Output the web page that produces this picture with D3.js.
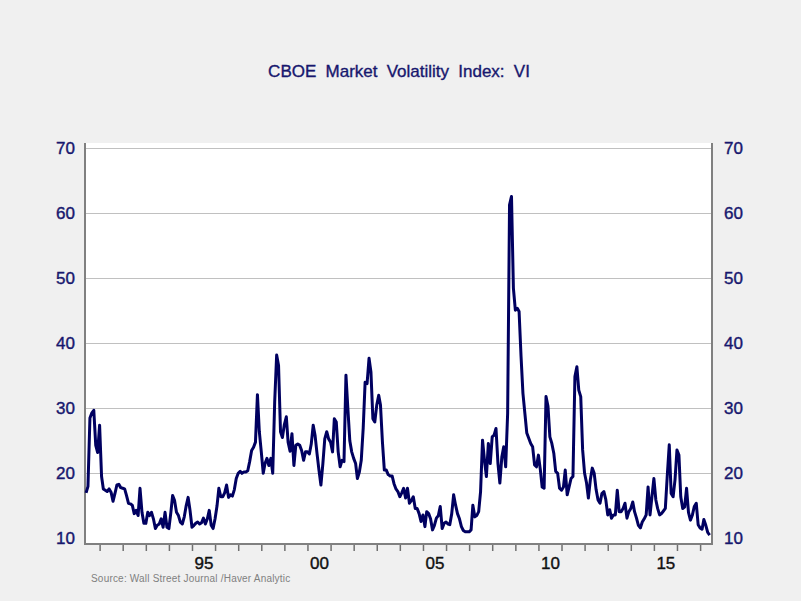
<!DOCTYPE html>
<html>
<head>
<meta charset="utf-8">
<script src="https://cdn.jsdelivr.net/npm/d3@7"></script>
<style>
  body { margin: 0; background: #f0f0f0; }
  svg { display: block; font-family: "Liberation Sans", Arial, sans-serif; }
</style>
</head>
<body>
<svg width="801" height="601"></svg>
<script>
const title = "CBOE Market Volatility Index: VI";
const source = "Source: Wall Street Journal /Haver Analytic";

// monthly values, first one is June 1990
const firstMonth = [1990, 5];
const vixMonthly = [
  17.0, 18.0, 28.5, 29.3, 29.7, 24.3, 23.2,                               // 1990 (Jun-Dec)
  27.4, 19.5, 17.6, 17.4, 17.2, 17.6, 17.1, 15.7, 16.9, 18.2, 18.3, 17.8, // 1991
  17.7, 17.6, 16.6, 15.4, 15.3, 15.1, 13.8, 14.3, 13.5, 17.7, 14.0, 12.3, // 1992
  12.3, 14.0, 13.5, 14.0, 13.0, 11.5, 12.0, 12.2, 13.0, 11.7, 14.0, 11.7, // 1993
  11.5, 14.0, 16.6, 15.8, 14.0, 13.5, 12.5, 12.2, 13.3, 15.0, 16.3, 14.3, // 1994
  11.7, 12.0, 12.3, 12.5, 12.2, 12.4, 13.1, 12.2, 13.0, 14.3, 12.0, 11.5, // 1995
  13.0, 15.0, 17.7, 16.4, 16.4, 17.0, 18.2, 16.3, 16.7, 16.5, 17.5, 19.2, // 1996
  20.0, 20.3, 20.0, 20.2, 20.2, 20.4, 21.8, 23.5, 24.0, 24.8, 32.1, 26.4, // 1997
  23.3, 20.0, 21.5, 22.3, 21.2, 22.3, 20.0, 31.0, 38.2, 36.6, 26.4, 25.5, // 1998
  27.5, 28.7, 24.8, 23.4, 26.1, 21.2, 24.3, 24.5, 24.3, 23.5, 22.0, 23.3, // 1999
  23.3, 23.0, 24.5, 27.4, 25.8, 23.0, 20.5, 18.2, 21.5, 25.3, 26.4, 25.3, // 2000
  24.8, 23.3, 28.4, 27.9, 23.3, 21.0, 22.0, 21.8, 35.1, 30.0, 25.0, 23.3, // 2001
  22.3, 21.5, 19.2, 20.2, 22.0, 27.0, 34.0, 33.8, 37.7, 35.6, 28.4, 27.9, // 2002
  30.5, 32.0, 30.5, 24.8, 20.5, 20.5, 19.8, 19.6, 19.6, 18.4, 17.6, 17.2, // 2003
  16.4, 17.0, 17.7, 16.2, 17.7, 15.4, 15.8, 16.4, 14.6, 14.6, 13.8, 12.6, // 2004
  13.6, 11.8, 14.1, 13.8, 13.0, 11.3, 12.0, 13.1, 13.5, 14.9, 11.5, 12.3, // 2005
  12.5, 12.2, 12.1, 13.8, 16.7, 15.1, 13.8, 13.0, 11.8, 11.2, 11.0, 11.0, // 2006
  11.0, 11.3, 15.1, 13.3, 13.5, 14.1, 17.2, 25.1, 22.0, 19.5, 24.6, 21.5, // 2007
  25.6, 25.9, 26.9, 21.5, 18.5, 22.5, 24.1, 21.0, 29.2, 61.3, 62.6, 48.5, // 2008
  45.1, 45.4, 44.9, 38.0, 32.3, 29.2, 26.2, 25.4, 24.6, 24.1, 21.3, 21.0, // 2009
  22.8, 20.5, 17.9, 17.7, 31.8, 30.3, 25.6, 24.6, 23.1, 20.3, 20.0, 17.7, // 2010
  17.4, 17.9, 20.5, 16.7, 17.9, 19.2, 19.5, 34.9, 36.4, 32.8, 31.8, 23.6, // 2011
  20.0, 18.5, 16.2, 19.0, 20.8, 20.0, 17.5, 15.9, 15.4, 16.9, 17.2, 16.0, // 2012
  13.6, 14.4, 13.1, 13.6, 13.6, 17.4, 14.1, 14.1, 14.6, 15.4, 13.1, 14.1, // 2013
  14.6, 15.6, 14.1, 13.1, 12.0, 11.6, 12.5, 13.0, 13.6, 17.9, 13.6, 16.4, // 2014
  19.2, 15.9, 14.6, 13.6, 13.8, 14.2, 14.6, 19.7, 24.4, 16.9, 16.4, 19.0, // 2015
  23.6, 22.8, 16.4, 14.6, 14.8, 17.7, 14.0, 12.8, 13.6, 14.9, 15.4, 12.1, // 2016
  11.6, 11.4, 12.9, 12.0, 10.9, 10.5                                      // 2017 (Jan-Jun)
];

const yTicks = [10, 20, 30, 40, 50, 60, 70];
const gridTicks = [20, 30, 40, 50, 60, 70];
const yearLabels = [1995, 2000, 2005, 2010, 2015];

const data = vixMonthly.map((v, i) => ({
    date: new Date(firstMonth[0], firstMonth[1] + i, 1),
    value: v
}));

const svg = d3.select('svg');
const plot = { left: 85, right: 712, top: 143, bottom: 543 };
const navy = '#17176e';

const x = d3.scaleTime()
    .domain([new Date(1990, 4, 15), new Date(2017, 6, 8)])
    .range([plot.left, plot.right]);

const y = d3.scaleLinear()
    .domain([9.28, 70.82])
    .range([plot.bottom, plot.top]);

// plot background
svg.append('rect')
    .attr('x', plot.left).attr('y', plot.top)
    .attr('width', plot.right - plot.left).attr('height', plot.bottom - plot.top)
    .attr('fill', '#fff');

// gridlines
svg.append('g')
    .selectAll('line')
    .data(gridTicks)
    .join('line')
    .attr('x1', plot.left + 1).attr('x2', plot.right - 1)
    .attr('y1', d => Math.round(y(d)) + 0.5).attr('y2', d => Math.round(y(d)) + 0.5)
    .attr('stroke', '#c0c0c0').attr('stroke-width', 1);

// title
svg.append('text')
    .attr('x', 399).attr('y', 77)
    .attr('text-anchor', 'middle')
    .attr('font-size', 17)
    .attr('fill', navy)
    .attr('stroke', navy).attr('stroke-width', 0.35)
    .attr('word-spacing', 4.5)
    .text(title);

// y axes, left and right
const yLeft = d3.axisLeft(y).tickValues(yTicks).tickSize(0).tickPadding(10);
const yRight = d3.axisRight(y).tickValues(yTicks).tickSize(0).tickPadding(12);

function styleLabels(sel, color) {
    sel.attr('font-size', 17)
        .attr('font-family', '"Liberation Sans", Arial, sans-serif')
        .attr('fill', color)
        .attr('stroke', color).attr('stroke-width', 0.4);
}

svg.append('g')
    .attr('transform', `translate(${plot.left}, 0)`)
    .call(yLeft)
    .call(g => g.select('.domain').remove())
    .selectAll('text')
    .call(styleLabels, navy);

svg.append('g')
    .attr('transform', `translate(${plot.right}, 0)`)
    .call(yRight)
    .call(g => g.select('.domain').remove())
    .selectAll('text')
    .call(styleLabels, navy);

// x axis: year ticks and mid-year labels
const yearStarts = d3.range(1991, 2018).map(yr => new Date(yr, 0, 1));
const xTicks = d3.axisBottom(x).tickValues(yearStarts).tickSize(7).tickFormat('').tickSizeOuter(0);

svg.append('g')
    .attr('transform', `translate(0, ${plot.bottom + 1})`)
    .call(xTicks)
    .call(g => g.select('.domain').remove())
    .selectAll('line')
    .attr('stroke', '#707070').attr('stroke-width', 1.5);

const xLabels = d3.axisBottom(x)
    .tickValues(yearLabels.map(yr => new Date(yr, 6, 1)))
    .tickSize(0).tickPadding(0)
    .tickFormat(d3.timeFormat('%y'));

svg.append('g')
    .attr('transform', `translate(0, 557)`)
    .call(xLabels)
    .call(g => g.select('.domain').remove())
    .selectAll('text')
    .call(styleLabels, '#111');

// frame: left, right, bottom
svg.append('path')
    .attr('d', `M${plot.left},${plot.top}V${plot.bottom + 1}H${plot.right}V${plot.top}`)
    .attr('fill', 'none')
    .attr('stroke', '#808080')
    .attr('stroke-width', 2);

// series
const line = d3.line()
    .x(d => x(d.date))
    .y(d => y(d.value));

svg.append('path')
    .datum(data)
    .attr('d', line)
    .attr('fill', 'none')
    .attr('stroke', '#000060')
    .attr('stroke-width', 3)
    .attr('stroke-linejoin', 'round');

// source note
svg.append('text')
    .attr('x', 91).attr('y', 582)
    .attr('font-size', 10)
    .attr('fill', '#808080')
    .attr('letter-spacing', 0.2)
    .text(source);
</script>
</body>
</html>
